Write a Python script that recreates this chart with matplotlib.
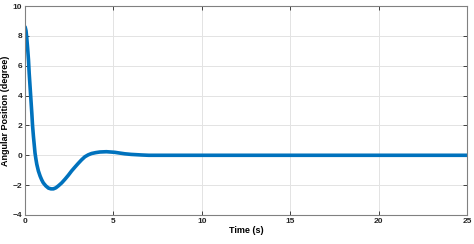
import numpy as np
import matplotlib
matplotlib.use("Agg")
import matplotlib.pyplot as plt

# Values
time_s = [0.0, 0.05, 0.09, 0.14, 0.19, 0.23, 0.28, 0.33, 0.38, 0.42, 0.47, 0.52,
          0.56, 0.61, 0.66, 0.75, 0.85, 0.94, 1.03, 1.17, 1.32, 1.46, 1.6, 1.74,
          1.88, 2.07, 2.26, 2.45, 2.63, 2.82, 3.0, 3.19, 3.38, 3.57, 3.76, 4.0,
          4.23, 4.6, 5.07, 5.35, 5.64, 6.0, 6.3, 6.6, 7.0, 8.0, 10.0, 15.0, 20.0,
          25.0]
angle_deg = [8.6, 8.35, 7.9, 7.2, 6.4, 5.5, 4.6, 3.7, 2.8, 2.0, 1.27, 0.65,
             0.15, -0.25, -0.6, -1.05, -1.4, -1.65, -1.85, -2.05, -2.2, -2.25,
             -2.25, -2.18, -2.05, -1.85, -1.6, -1.33, -1.05, -0.79, -0.55, -0.31,
             -0.1, 0.03, 0.12, 0.18, 0.22, 0.24, 0.2, 0.15, 0.1, 0.06, 0.04, 0.02,
             0.0, 0.0, 0.0, 0.0, 0.0, 0.0]
x_ticks = [0, 5, 10, 15, 20, 25]
y_ticks = [-4, -2, 0, 2, 4, 6, 8, 10]

plt.rcParams["font.family"] = ["Liberation Sans", "DejaVu Sans"]

fig = plt.figure(figsize=(4.74, 2.44), dpi=100)
ax = fig.add_axes([0.053, 0.119, 0.932, 0.856])

ax.plot(time_s, angle_deg, color="#0072BD", linewidth=2.6,
        solid_capstyle="round", solid_joinstyle="round")

ax.set_xlim(0, 25)
ax.set_ylim(-4, 10)
ax.set_xticks(x_ticks)
ax.set_yticks(y_ticks)
ax.grid(True, color="#e3e3e3", linewidth=0.7)
ax.tick_params(direction="in", length=3, width=0.6, top=True, right=True,
               labelsize=6, colors="#262626", pad=2)
for lab in ax.get_xticklabels() + ax.get_yticklabels():
    lab.set_fontweight("bold")
for sp in ax.spines.values():
    sp.set_color("#808080")
    sp.set_linewidth(0.8)

ax.set_xlabel("Time (s)", fontsize=6.5, fontweight="bold", labelpad=1)
ax.set_ylabel("Angular Position (degree)", fontsize=6.5, fontweight="bold", labelpad=2)

fig.savefig("out.png", dpi=100)
